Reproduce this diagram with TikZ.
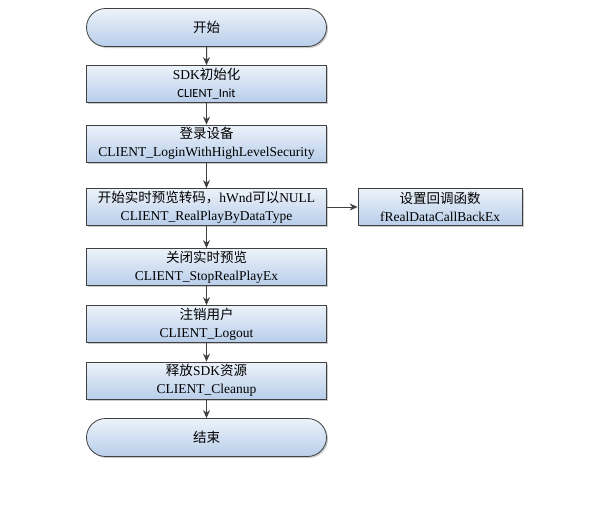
\documentclass[tikz,border=0pt]{standalone}
\usepackage{fontspec}
\setmainfont{Liberation Serif}
\newfontfamily\zhfont{Noto Sans CJK SC}
\newfontfamily\calfont{Carlito}
\usepackage{tikz}
\usetikzlibrary{arrows.meta,positioning,shapes.misc,shadows}
\definecolor{bordc}{RGB}{64,64,64}
\definecolor{topc}{RGB}{236,242,250}
\definecolor{botc}{RGB}{184,206,234}
\newcommand{\zh}[1]{{\zhfont #1}}

\begin{document}
\begin{tikzpicture}[x=1pt,y=-1pt,
  box/.style={draw=bordc,line width=0.8pt,top color=topc,bottom color=botc,
    minimum width=240pt,minimum height=37pt,inner sep=0pt,align=center,
    font=\fontsize{13.5}{18}\selectfont,
    drop shadow={shadow xshift=1.5pt,shadow yshift=-1.5pt,fill=black!35,opacity=0.6}},
  term/.style={box,rounded rectangle,minimum height=38pt},
  arr/.style={-{Stealth[length=8pt,width=7pt]},line width=1pt,bordc}]
  \useasboundingbox (0,0) rectangle (596,506);
  \node[term] (start) at (206.5,27.5) {\zh{开始}};
  \node[box] (init) at (206.5,84) {SDK\zh{初始化}\\{\calfont\fontsize{12.5}{14}\selectfont CLIENT\_Init}};
  \node[box] (login) at (206.5,143.5) {\zh{登录设备}\\CLIENT\_LoginWithHighLevelSecurity};
  \node[box] (play) at (206.5,207) {\zh{开始实时预览转码，}hWnd\zh{可以}NULL\\CLIENT\_RealPlayByDataType};
  \node[box,minimum width=164pt] (cb) at (440,207) {\zh{设置回调函数}\\fRealDataCallBackEx};
  \node[box] (stop) at (206.5,267) {\zh{关闭实时预览}\\CLIENT\_StopRealPlayEx};
  \node[box] (logout) at (206.5,324) {\zh{注销用户}\\CLIENT\_Logout};
  \node[box] (clean) at (206.5,380.5) {\zh{释放}SDK\zh{资源}\\CLIENT\_Cleanup};
  \node[term] (stopend) at (206.5,437.5) {\zh{结束}};
  % connectors
  \draw[arr] (start) -- (init);
  \draw[arr] (init) -- (login);
  \draw[arr] (login) -- (play);
  \draw[arr] (play) -- (stop);
  \draw[arr] (stop) -- (logout);
  \draw[arr] (logout) -- (clean);
  \draw[arr] (clean) -- (stopend);
  \draw[arr] (play) -- (cb);
\end{tikzpicture}
\end{document}
